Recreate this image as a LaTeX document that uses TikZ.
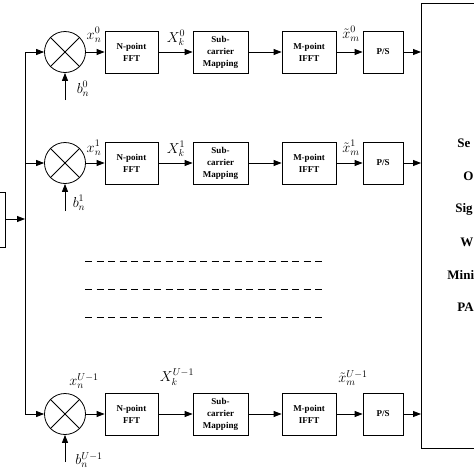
\documentclass[tikz,border=0pt]{standalone}
\usepackage{fontspec}
\setmainfont{Liberation Serif}
\usetikzlibrary{arrows.meta}
\begin{document}
\begin{tikzpicture}[x=1pt,y=-1pt, line width=0.8pt,
 blk/.style={draw, minimum height=42pt, inner sep=0pt, align=center, font=\fontsize{9}{12}\selectfont\bfseries},
 mult/.style={draw, circle, minimum size=41pt, inner sep=0pt},
 arr/.style={-{Triangle[length=8pt,width=6pt]}},
 lab/.style={font=\fontsize{14.5}{16}\selectfont, inner sep=0pt},
 bigtxt/.style={font=\fontsize{13}{15}\selectfont\bfseries, anchor=west, inner sep=0pt},
 dsh/.style={dash pattern=on 7pt off 4.5pt, line width=1pt}]
\useasboundingbox (0,0) rectangle (474,474);
\clip (0,0) rectangle (474,474);
% source box and bus
\node[draw, minimum width=40pt, minimum height=55pt, inner sep=0pt] (src) at (-15,219.5) {};
\coordinate (busS) at (25,219);
\coordinate (bus0) at (25,52);
\coordinate (bus1) at (25,163);
\coordinate (bus2) at (25,414);
\draw (bus0) -- (bus2);
\draw[arr] (src.east |- busS) -- (busS);
% big box
\node[draw, minimum width=120pt, minimum height=445pt, inner sep=0pt, anchor=north west] (big) at (421,3) {};
\node[bigtxt] (t1) at (457,143) {Se};
\node[bigtxt] (t2) at (463,176) {O};
\node[bigtxt] (t3) at (455,209) {Sig};
\node[bigtxt] (t4) at (460,242) {W};
\node[bigtxt] (t5) at (447,275) {Mini};
\node[bigtxt] (t6) at (457,307) {PA};
% rows
\foreach \r/\y in {0/52,1/163,2/414} {
 \node[mult] (m\r) at (65,\y) {};
 \draw (m\r.north west) -- (m\r.south east) (m\r.north east) -- (m\r.south west);
 \node[blk, minimum width=53pt] (f\r) at (131.5,\y) {N-point\\FFT};
 \node[blk, minimum width=55pt] (s\r) at (220.5,\y) {Sub-\\carrier\\Mapping};
 \node[blk, minimum width=54pt] (i\r) at (309,\y) {M-point\\IFFT};
 \node[blk, minimum width=40pt] (p\r) at (383,\y) {P/S};
 \coordinate (b\r) at (65,\y+48);
 \draw[arr] (b\r) -- (m\r.south);
 \draw[arr] (bus\r) -- (m\r.west);
 \draw[arr] (m\r.east) -- (f\r.west);
 \draw[arr] (f\r.east) -- (s\r.west);
 \draw[arr] (s\r.east) -- (i\r.west);
 \draw[arr] (i\r.east) -- (p\r.west);
 \draw[arr] (p\r.east) -- (p\r.east -| big.west);
}
% labels row 0
\node[lab] (lx0) at (94,35) {$x_n^0$};
\node[lab] (lX0) at (176,38) {$X_k^0$};
\node[lab] (lt0) at (351,34) {$\tilde{x}_m^0$};
\node[lab] (lb0) at (83,89) {$b_n^0$};
% labels row 1
\node[lab] (lx1) at (94,148) {$x_n^1$};
\node[lab] (lX1) at (176,149) {$X_k^1$};
\node[lab] (lt1) at (351,148) {$\tilde{x}_m^1$};
\node[lab] (lb1) at (79,203) {$b_n^1$};
% labels row 2
\node[lab] (lx2) at (84,381) {$x_n^{U-1}$};
\node[lab] (lX2) at (177,377) {$X_k^{U-1}$};
\node[lab] (lt2) at (353,378) {$\tilde{x}_m^{U-1}$};
\node[lab] (lb2) at (89,460) {$b_n^{U-1}$};
% dashed lines
\coordinate (d1a) at (85,261); \coordinate (d1b) at (325,261);
\coordinate (d2a) at (85,289); \coordinate (d2b) at (325,289);
\coordinate (d3a) at (85,317); \coordinate (d3b) at (325,317);
\draw[dsh] (d1a) -- (d1b);
\draw[dsh] (d2a) -- (d2b);
\draw[dsh] (d3a) -- (d3b);
\end{tikzpicture}
\end{document}
